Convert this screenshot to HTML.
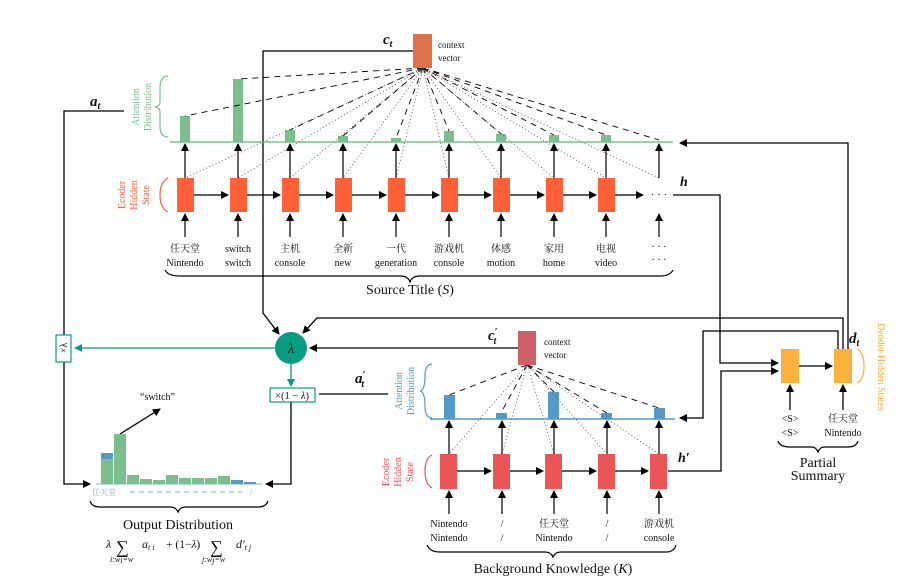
<!DOCTYPE html>
<html><head><meta charset="utf-8"><style>body{margin:0;background:#fff}svg{display:block}text{font-family:"Liberation Serif","Noto Serif CJK SC",serif;fill:#111}</style></head><body>
<svg width="911" height="588" viewBox="0 0 911 588" xmlns="http://www.w3.org/2000/svg">
<defs>
<marker id="a" markerWidth="8" markerHeight="8" refX="7" refY="4" orient="auto" markerUnits="userSpaceOnUse"><path d="M0,0 L8,4 L0,8 z" fill="#000"/></marker>
<marker id="t" markerWidth="8" markerHeight="8" refX="7" refY="4" orient="auto" markerUnits="userSpaceOnUse"><path d="M0,0 L8,4 L0,8 z" fill="#079b82"/></marker>
</defs>
<g stroke="#000" stroke-width="1.3" fill="none">
<polyline points="413,51 263,51 263,313 279,334" marker-end="url(#a)"/>
<polyline points="124,111 64,111 64,335"/>
<polyline points="64,362 64,484 90,484" marker-end="url(#a)"/>
<polyline points="291,402 291,484 266,484" marker-end="url(#a)"/>
<line x1="319" y1="394" x2="388" y2="394"/>
<polyline points="518,348 310,348" marker-end="url(#a)"/>
<polyline points="843,350 843,318 317,318 303,333" marker-end="url(#a)"/>
<polyline points="848,350 848,143 680,143" marker-end="url(#a)"/>
<polyline points="838,350 838,331 703,331 703,418 680,418" marker-end="url(#a)"/>
<polyline points="673,195 720,195 720,363 778,363" marker-end="url(#a)"/>
<polyline points="668,471 721,471 721,371 778,371" marker-end="url(#a)"/>
<line x1="799" y1="366" x2="832" y2="366" marker-end="url(#a)"/>
<line x1="790" y1="410" x2="790" y2="385" marker-end="url(#a)"/>
<line x1="843" y1="410" x2="843" y2="385" marker-end="url(#a)"/>
<line x1="120" y1="434" x2="160" y2="409" marker-end="url(#a)"/>
</g>
<g id="src">
<line x1="170" y1="142" x2="673" y2="142" stroke="#7bbf8f" stroke-width="1.5"/>
<g fill="#7bbf8f">
<rect x="180" y="116" width="10" height="26"/><rect x="233" y="79" width="10" height="63"/><rect x="285" y="130" width="10" height="12"/><rect x="338" y="136" width="10" height="6"/><rect x="391" y="138" width="10" height="4"/><rect x="444" y="131" width="10" height="11"/><rect x="496" y="134" width="10" height="8"/><rect x="549" y="135" width="10" height="7"/><rect x="601" y="135" width="10" height="7"/>
</g>
<g stroke="#000" stroke-width="0.9" stroke-dasharray="6,5" fill="none">
<line x1="423" y1="68" x2="185" y2="116"/><line x1="423" y1="68" x2="238" y2="79"/><line x1="423" y1="68" x2="290" y2="130"/><line x1="423" y1="68" x2="343" y2="136"/><line x1="423" y1="68" x2="396" y2="138"/><line x1="423" y1="68" x2="449" y2="131"/><line x1="423" y1="68" x2="501" y2="134"/><line x1="423" y1="68" x2="554" y2="135"/><line x1="423" y1="68" x2="606" y2="135"/><line x1="423" y1="68" x2="659" y2="140"/>
</g>
<g stroke="#444" stroke-width="0.8" stroke-dasharray="1,2.5" fill="none">
<line x1="423" y1="68" x2="185" y2="178"/><line x1="423" y1="68" x2="238" y2="178"/><line x1="423" y1="68" x2="290" y2="178"/><line x1="423" y1="68" x2="343" y2="178"/><line x1="423" y1="68" x2="396" y2="178"/><line x1="423" y1="68" x2="449" y2="178"/><line x1="423" y1="68" x2="501" y2="178"/><line x1="423" y1="68" x2="554" y2="178"/><line x1="423" y1="68" x2="606" y2="178"/><line x1="423" y1="68" x2="659" y2="178"/>
</g>
<g fill="#ff6038">
<rect x="177" y="178" width="17" height="34"/><rect x="230" y="178" width="17" height="34"/><rect x="282" y="178" width="17" height="34"/><rect x="335" y="178" width="17" height="34"/><rect x="388" y="178" width="17" height="34"/><rect x="441" y="178" width="17" height="34"/><rect x="493" y="178" width="17" height="34"/><rect x="546" y="178" width="17" height="34"/><rect x="598" y="178" width="17" height="34"/>
</g>
<g stroke="#000" stroke-width="1.2" marker-end="url(#a)">
<line x1="185" y1="178" x2="185" y2="144"/><line x1="238" y1="178" x2="238" y2="144"/><line x1="290" y1="178" x2="290" y2="144"/><line x1="343" y1="178" x2="343" y2="144"/><line x1="396" y1="178" x2="396" y2="144"/><line x1="449" y1="178" x2="449" y2="144"/><line x1="501" y1="178" x2="501" y2="144"/><line x1="554" y1="178" x2="554" y2="144"/><line x1="606" y1="178" x2="606" y2="144"/><line x1="659" y1="178" x2="659" y2="144"/>
<line x1="185" y1="237" x2="185" y2="214"/><line x1="238" y1="237" x2="238" y2="214"/><line x1="290" y1="237" x2="290" y2="214"/><line x1="343" y1="237" x2="343" y2="214"/><line x1="396" y1="237" x2="396" y2="214"/><line x1="449" y1="237" x2="449" y2="214"/><line x1="501" y1="237" x2="501" y2="214"/><line x1="554" y1="237" x2="554" y2="214"/><line x1="606" y1="237" x2="606" y2="214"/><line x1="659" y1="237" x2="659" y2="214"/>
<line x1="194" y1="195" x2="228" y2="195"/><line x1="247" y1="195" x2="280" y2="195"/><line x1="299" y1="195" x2="333" y2="195"/><line x1="352" y1="195" x2="386" y2="195"/><line x1="405" y1="195" x2="439" y2="195"/><line x1="458" y1="195" x2="491" y2="195"/><line x1="510" y1="195" x2="544" y2="195"/><line x1="563" y1="195" x2="596" y2="195"/><line x1="615" y1="195" x2="643" y2="195"/>
</g>
<text x="659" y="198" font-size="11" text-anchor="middle">· · ·</text>
<rect x="413" y="34" width="19" height="34" fill="#e07048"/>
<text x="438" y="48" font-size="9">context</text><text x="438" y="61" font-size="9">vector</text>
<text x="383" y="44" font-size="15" font-style="italic" font-weight="bold">c<tspan font-size="10" dy="3">t</tspan></text>
<text x="680" y="186" font-size="14" font-style="italic" font-weight="bold">h</text>
<g font-size="10" text-anchor="middle">
<text x="185" y="252">任天堂</text><text x="238" y="252">switch</text><text x="290" y="252">主机</text><text x="343" y="252">全新</text><text x="396" y="252">一代</text><text x="449" y="252">游戏机</text><text x="501" y="252">体感</text><text x="554" y="252">家用</text><text x="606" y="252">电视</text><text x="659" y="250">· · ·</text>
<text x="185" y="266">Nintendo</text><text x="238" y="266">switch</text><text x="290" y="266">console</text><text x="343" y="266">new</text><text x="396" y="266">generation</text><text x="449" y="266">console</text><text x="501" y="266">motion</text><text x="554" y="266">home</text><text x="606" y="266">video</text><text x="659" y="263">· · ·</text>
</g>
<path d="M165,270 Q168,276 180,276 L400,276 Q408,276 410,282 Q412,276 420,276 L660,276 Q670,276 673,270" stroke="#000" fill="none" stroke-width="1.2"/>
<text x="410" y="294" font-size="14" text-anchor="middle">Source Title (<tspan font-style="italic">S</tspan>)</text>
<path d="M168,76 Q160,76 160,88 L160,102 Q160,106 155,107 Q160,108 160,112 L160,126 Q160,137 168,137" stroke="#7bbf8f" fill="none" stroke-width="1.2"/>
<text transform="translate(139,107) rotate(-90)" font-size="10" text-anchor="middle" style="fill:#7bbf8f">Attention</text>
<text transform="translate(151,107) rotate(-90)" font-size="10" text-anchor="middle" style="fill:#7bbf8f">Distribution</text>
<path d="M168,178 Q160,182 160,195 Q160,208 168,212" stroke="#ff6038" fill="none" stroke-width="1.2"/>
<text transform="translate(125,195) rotate(-90)" font-size="10" text-anchor="middle" style="fill:#ff6038">Ecoder</text>
<text transform="translate(137,195) rotate(-90)" font-size="10" text-anchor="middle" style="fill:#ff6038">Hidden</text>
<text transform="translate(149,195) rotate(-90)" font-size="10" text-anchor="middle" style="fill:#ff6038">State</text>
</g>
<text x="90" y="106" font-size="15" font-style="italic" font-weight="bold">a<tspan font-size="10" dy="3">t</tspan></text>
<circle cx="291" cy="348" r="16" fill="#079b82"/>
<text x="291" y="353" font-size="14" font-style="italic" text-anchor="middle">λ</text>
<line x1="275" y1="348" x2="75" y2="348" stroke="#079b82" stroke-width="1.3" marker-end="url(#t)"/>
<line x1="291" y1="364" x2="291" y2="386" stroke="#079b82" stroke-width="1.3" marker-end="url(#t)"/>
<rect x="56" y="335" width="15" height="27" fill="#fff" stroke="#079b82" stroke-width="1.2"/>
<text transform="translate(67,348) rotate(-90)" font-size="10" text-anchor="middle">×λ</text>
<rect x="270" y="388" width="45" height="14" fill="#fff" stroke="#079b82" stroke-width="1.2"/>
<text x="292" y="399" font-size="10.5" text-anchor="middle">×(1 − <tspan font-style="italic">λ</tspan>)</text>
<text x="355" y="383" font-size="15" font-style="italic" font-weight="bold">a<tspan font-size="10" dy="-5">′</tspan><tspan font-size="10" dx="-4" dy="9">t</tspan></text>
<line x1="96" y1="484" x2="262" y2="484" stroke="#7fb8b0" stroke-width="1"/>
<g fill="#7bbf8f">
<rect x="101" y="459" width="12" height="25"/><rect x="114" y="434" width="12" height="50"/><rect x="127" y="475" width="12" height="9"/><rect x="140" y="479" width="12" height="5"/><rect x="153" y="480" width="12" height="4"/><rect x="166" y="475" width="12" height="9"/><rect x="179" y="478" width="12" height="6"/><rect x="192" y="478" width="12" height="6"/><rect x="205" y="478" width="12" height="6"/><rect x="218" y="476" width="12" height="8"/>
</g>
<g fill="#5499c7"><rect x="101" y="453" width="12" height="6"/><rect x="231" y="480" width="12" height="4"/><rect x="244" y="482" width="12" height="2"/></g>
<text x="140" y="400" font-size="10">“switch”</text>
<text x="92" y="495" font-size="8" style="fill:#7fb8b0">任天堂</text>
<line x1="130" y1="492" x2="242" y2="492" stroke="#7fb8b0" stroke-dasharray="5,4"/>
<text x="250" y="495" font-size="8" style="fill:#7fb8b0">/</text>
<path d="M90,501 Q92,507 100,507 L170,507 Q176,507 178,512 Q180,507 186,507 L258,507 Q266,507 268,501" stroke="#000" fill="none" stroke-width="1.2"/>
<text x="178" y="529" font-size="14" text-anchor="middle">Output Distribution</text>
<text x="106" y="548" font-size="12" font-style="italic">λ</text>
<text x="116" y="553" font-size="18">∑</text><text x="142" y="548" font-size="12" font-style="italic">a<tspan font-size="8" dy="2">t i</tspan></text>
<text x="166" y="548" font-size="11.5">+ (1−<tspan font-style="italic">λ</tspan>)</text>
<text x="210" y="553" font-size="18">∑</text><text x="236" y="548" font-size="12" font-style="italic">d′<tspan font-size="8" dy="2">t j</tspan></text>
<text x="110" y="562" font-size="8" font-style="italic">i:w<tspan dy="1">i</tspan><tspan dy="-1">=w</tspan></text>
<text x="202" y="562" font-size="8" font-style="italic">j:w<tspan dy="1">j</tspan><tspan dy="-1">=w</tspan></text>
<line x1="430" y1="419" x2="675" y2="419" stroke="#5499c7" stroke-width="1.5"/>
<g fill="#5499c7"><rect x="444" y="395" width="11" height="24"/><rect x="496" y="413" width="11" height="6"/><rect x="548" y="392" width="11" height="27"/><rect x="601" y="413" width="11" height="6"/><rect x="654" y="408" width="11" height="11"/></g>
<g stroke="#000" stroke-width="0.9" stroke-dasharray="6,5" fill="none">
<line x1="527" y1="365" x2="449" y2="395"/><line x1="527" y1="365" x2="502" y2="411"/><line x1="527" y1="365" x2="554" y2="392"/><line x1="527" y1="365" x2="607" y2="413"/><line x1="527" y1="365" x2="659" y2="408"/>
</g>
<g stroke="#444" stroke-width="0.8" stroke-dasharray="1,2.5" fill="none">
<line x1="527" y1="365" x2="449" y2="454"/><line x1="527" y1="365" x2="502" y2="454"/><line x1="527" y1="365" x2="554" y2="454"/><line x1="527" y1="365" x2="607" y2="454"/><line x1="527" y1="365" x2="659" y2="454"/>
</g>
<g fill="#ec5555"><rect x="440" y="454" width="17" height="35"/><rect x="493" y="454" width="17" height="35"/><rect x="545" y="454" width="17" height="35"/><rect x="598" y="454" width="17" height="35"/><rect x="650" y="454" width="17" height="35"/></g>
<g stroke="#000" stroke-width="1.2" marker-end="url(#a)">
<line x1="449" y1="454" x2="449" y2="421"/><line x1="502" y1="454" x2="502" y2="421"/><line x1="554" y1="454" x2="554" y2="421"/><line x1="607" y1="454" x2="607" y2="421"/><line x1="659" y1="454" x2="659" y2="421"/>
<line x1="449" y1="514" x2="449" y2="491"/><line x1="502" y1="514" x2="502" y2="491"/><line x1="554" y1="514" x2="554" y2="491"/><line x1="607" y1="514" x2="607" y2="491"/><line x1="659" y1="514" x2="659" y2="491"/>
<line x1="457" y1="471" x2="491" y2="471"/><line x1="510" y1="471" x2="543" y2="471"/><line x1="562" y1="471" x2="596" y2="471"/><line x1="615" y1="471" x2="648" y2="471"/>
</g>
<rect x="518" y="331" width="18" height="34" fill="#cd6068"/>
<text x="544" y="345" font-size="9">context</text><text x="544" y="358" font-size="9">vector</text>
<text x="488" y="340" font-size="15" font-style="italic" font-weight="bold">c<tspan font-size="10" dy="-5">′</tspan><tspan font-size="10" dx="-4" dy="9">t</tspan></text>
<text x="678" y="462" font-size="14" font-style="italic" font-weight="bold">h′</text>
<g font-size="10" text-anchor="middle">
<text x="449" y="527">Nintendo</text><text x="502" y="527">/</text><text x="554" y="527">任天堂</text><text x="607" y="527">/</text><text x="659" y="527">游戏机</text>
<text x="449" y="541">Nintendo</text><text x="502" y="541">/</text><text x="554" y="541">Nintendo</text><text x="607" y="541">/</text><text x="659" y="541">console</text>
</g>
<path d="M427,545 Q430,552 440,552 L545,552 Q551,552 553,557 Q555,552 561,552 L666,552 Q674,552 676,545" stroke="#000" fill="none" stroke-width="1.2"/>
<text x="553" y="573" font-size="14" text-anchor="middle">Background Knowledge (<tspan font-style="italic">K</tspan>)</text>
<path d="M432,364 Q425,364 425,376 Q425,390 420,391 Q425,392 425,406 Q425,418 432,418" stroke="#5499c7" fill="none" stroke-width="1.2"/>
<text transform="translate(402,391) rotate(-90)" font-size="10" text-anchor="middle" style="fill:#5499c7">Attention</text>
<text transform="translate(414,391) rotate(-90)" font-size="10" text-anchor="middle" style="fill:#5499c7">Distribution</text>
<path d="M432,455 Q425,458 425,471 Q425,484 432,488" stroke="#ec5555" fill="none" stroke-width="1.2"/>
<text transform="translate(389,472) rotate(-90)" font-size="10" text-anchor="middle" style="fill:#ec5555">Ecoder</text>
<text transform="translate(401,472) rotate(-90)" font-size="10" text-anchor="middle" style="fill:#ec5555">Hidden</text>
<text transform="translate(413,472) rotate(-90)" font-size="10" text-anchor="middle" style="fill:#ec5555">State</text>
<rect x="781" y="349" width="18" height="34" fill="#fbb03b"/><rect x="834" y="349" width="18" height="34" fill="#fbb03b"/>
<text x="849" y="343" font-size="15" font-style="italic" font-weight="bold">d<tspan font-size="10" dy="3">t</tspan></text>
<path d="M857,349 Q864,352 864,366 Q864,380 857,383" stroke="#fbb03b" fill="none" stroke-width="1.2"/>
<text transform="translate(878,367) rotate(90)" font-size="10" text-anchor="middle" style="fill:#fbb03b">Deoder Hidden States</text>
<g font-size="10" text-anchor="middle"><text x="790" y="422">&lt;S&gt;</text><text x="790" y="436">&lt;S&gt;</text><text x="843" y="422">任天堂</text><text x="843" y="436">Nintendo</text></g>
<path d="M778,441 Q780,447 790,447 L812,447 Q816,447 818,452 Q820,447 824,447 L848,447 Q856,447 858,441" stroke="#000" fill="none" stroke-width="1.2"/>
<text x="818" y="467" font-size="14" text-anchor="middle">Partial</text>
<text x="818" y="480" font-size="14" text-anchor="middle">Summary</text>
</svg>
</body></html>
